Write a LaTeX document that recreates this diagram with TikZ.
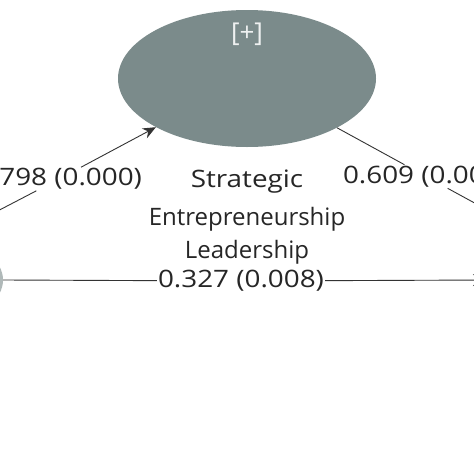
\documentclass[tikz,border=0pt]{standalone}
\usepackage{fontspec}
\setmainfont{Open Sans}
\newfontfamily\widefont[FakeStretch=1.16]{Open Sans}
\usetikzlibrary{shapes.geometric,arrows.meta}
\definecolor{latent}{HTML}{7B8B8B}
\definecolor{ink}{HTML}{262626}
\definecolor{edge}{HTML}{333333}
\tikzset{
  lbl/.style={fill=white,inner sep=1pt,text=ink,font=\widefont\fontsize{24}{27}\selectfont},
  namelbl/.style={text=ink,inner sep=0pt,anchor=base,font=\fontsize{24}{27}\selectfont},
  path/.style={draw=edge,line width=0.9pt},
  tipped/.style={path,-{Stealth[length=13pt,width=11pt]}}
}
\begin{document}
\begin{tikzpicture}[x=1pt,y=-1pt]
\useasboundingbox (0,0) rectangle (474,474);
\fill[white] (0,0) rectangle (474,474);
\node[ellipse,fill=latent,minimum width=258pt,minimum height=137pt,inner sep=0pt] (sel) at (247,78.5) {};
\node[text=latent!12,font=\fontsize{26}{29}\selectfont] (plus) at (247,34) {[+]};
\node[circle,fill=latent!60,minimum size=56pt,inner sep=0pt] (left) at (-25,280) {};
\node[namelbl,font=\widefont\fontsize{24}{27}\selectfont] (n1) at (247,187) {Strategic};
\node[namelbl] (n2) at (247,225) {Entrepreneurship};
\node[namelbl] (n3) at (247,258) {Leadership};
\node[lbl] (lab1) at (59,179) {0.798 (0.000)};
\node[lbl] (lab2) at (426,176.5) {0.609 (0.000)};
\node[lbl] (lab3) at (241,281) {0.327 (0.008)};
\coordinate (lstart) at (-12,216);
\coordinate (rfar) at (492,212.5);
\coordinate (rend) at (487,280);
\draw[path] (lstart) -- (lab1);
\draw[tipped] (lab1) -- (sel);
\draw[path] (sel) -- (lab2);
\draw[path] (lab2) -- (rfar);
\draw[path] (left.east) -- (lab3);
\draw[path,-{Stealth[length=14pt,width=12pt]}] (lab3) -- (rend);
\end{tikzpicture}
\end{document}
